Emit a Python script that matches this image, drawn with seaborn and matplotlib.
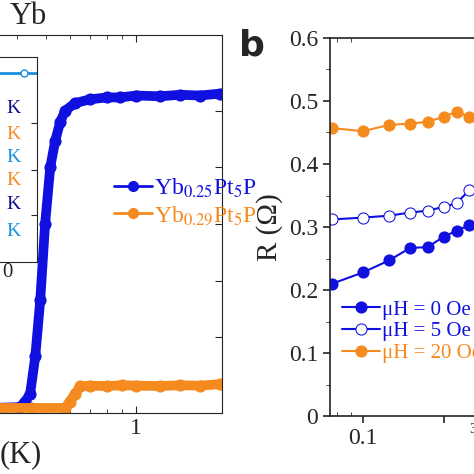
import matplotlib
matplotlib.use("Agg")
import matplotlib.pyplot as plt
from matplotlib.lines import Line2D
import seaborn as sns
import numpy as np

sns.set_style("ticks")
plt.rcParams['font.family'] = ['Liberation Serif', 'DejaVu Serif']
plt.rcParams['mathtext.fontset'] = 'stix'

BLUE = "#1010e0"
ORANGE = "#f58a1f"
LBLUE = "#1a8fe0"

# panel a data (T in K, normalized R)
t_a_blue = [0.326, 0.41, 0.426, 0.443, 0.461, 0.479, 0.497, 0.517, 0.537, 0.558, 0.58, 0.626, 0.703, 0.80, 0.884, 1.0, 1.2, 1.4, 1.63, 1.9]
r_a_blue = [0.013, 0.015, 0.03, 0.05, 0.15, 0.3, 0.5, 0.65, 0.72, 0.77, 0.8, 0.82, 0.83, 0.835, 0.835, 0.84, 0.838, 0.842, 0.84, 0.845]
t_a_or = [0.326, 0.45, 0.58, 0.60, 0.626, 0.65, 0.70, 0.8, 0.9, 1.0, 1.2, 1.4, 1.63, 1.9]
r_a_or = [0.013, 0.013, 0.013, 0.03, 0.05, 0.07, 0.072, 0.071, 0.073, 0.072, 0.071, 0.073, 0.072, 0.076]

# panel b data
t_b = [0.0767, 0.1, 0.125, 0.150, 0.174, 0.2, 0.223, 0.248, 0.275]
r_0 = [0.21, 0.228, 0.247, 0.267, 0.268, 0.285, 0.294, 0.303, 0.31]
r_5 = [0.312, 0.315, 0.318, 0.323, 0.326, 0.332, 0.338, 0.358, 0.362]
r_20 = [0.457, 0.452, 0.462, 0.464, 0.467, 0.475, 0.483, 0.475, 0.478]

fig = plt.figure(figsize=(4.74, 4.74), dpi=100)

# panel a
axa = fig.add_axes([-0.5, 0.129, 0.968, 0.797])
sns.lineplot(x=t_a_blue, y=r_a_blue, ax=axa, color=BLUE, lw=7, marker='o', ms=8, mec=BLUE, legend=False)
sns.lineplot(x=t_a_or, y=r_a_or, ax=axa, color=ORANGE, lw=7, marker='o', ms=8, mec=ORANGE, legend=False)
axa.set_xscale('log')
axa.set_xlim(0.057, 1.93)
axa.set_ylim(0, 1)
axa.set_xticks([1])
axa.set_xticklabels(["1"])
axa.tick_params(direction='in', top=True, right=True, labelsize=17, length=5)
axa.tick_params(which='minor', direction='in', top=True, length=3)
axa.set_yticks([0.2, 0.35, 0.5, 0.65, 0.8])
axa.set_yticklabels([])
for s in axa.spines.values():
    s.set_color('#222222')
handles = [Line2D([], [], color=BLUE, lw=2, marker='o', ms=7),
           Line2D([], [], color=ORANGE, lw=2, marker='o', ms=7)]
leg = axa.legend(handles, [r"Yb$_{0.25}$Pt$_5$P", r"Yb$_{0.29}$Pt$_5$P"], loc='upper left',
                 bbox_to_anchor=(0.745, 0.65), frameon=False, fontsize=17,
                 handlelength=1.6, handletextpad=0.1, labelspacing=0.2, borderaxespad=0)
for txt, c in zip(leg.get_texts(), [BLUE, ORANGE]):
    txt.set_color(c)

# inset
axi = fig.add_axes([-0.2, 0.447, 0.278, 0.433])
axi.plot([0.1, 0.6, 0.9, 1.1], [0.92, 0.92, 0.92, 0.92], color=LBLUE, lw=2, marker='o', ms=5, mfc='white', mec=LBLUE)
axi.set_xlim(0, 1)
axi.set_ylim(0, 1)
axi.set_xticks([])
axi.set_yticks([0.68, 0.45, 0.23])
axi.set_yticklabels([])
axi.tick_params(direction='in', right=True, length=4)
k_cols = ["#101090", ORANGE, LBLUE, ORANGE, "#101090", LBLUE]
k_y = [0.75, 0.62, 0.51, 0.40, 0.28, 0.15]
for yy, c in zip(k_y, k_cols):
    axi.text(0.82, yy, "K", color=c, fontsize=14, ha='center', va='center', transform=axi.transAxes)

fig.text(0.005, 0.425, "0", fontsize=15, va='center')
fig.text(0.02, 0.965, "Yb", fontsize=22, va='center')
fig.text(0.0, 0.04, "(K)", fontsize=22, va='center')

# panel b
axb = fig.add_axes([0.696, 0.122, 0.45, 0.798])
sns.lineplot(x=t_b, y=r_0, ax=axb, color=BLUE, marker='o', ms=8, mec=BLUE, lw=1.5, label="μH = 0 Oe")
sns.lineplot(x=t_b, y=r_5, ax=axb, color=BLUE, marker='o', ms=8, mfc='white', mec=BLUE, lw=1.5, label="μH = 5 Oe")
sns.lineplot(x=t_b, y=r_20, ax=axb, color=ORANGE, marker='o', ms=8, mec=ORANGE, lw=1.5, label="μH = 20 Oe")
axb.set_xscale('log')
axb.set_xlim(0.0754, 0.468)
axb.set_ylim(0, 0.6)
axb.set_yticks([0, 0.1, 0.2, 0.3, 0.4, 0.5, 0.6])
axb.set_yticklabels(["0", "0.1", "0.2", "0.3", "0.4", "0.5", "0.6"])
axb.set_yticks(np.arange(0.05, 0.6, 0.1), minor=True)
axb.set_xticks([0.1, 0.2])
axb.set_xticklabels(["0.1", " "])
axb.tick_params(direction='out', labelsize=17, length=5, width=1.2)
axb.tick_params(which='minor', direction='out', length=3)
axb.tick_params(axis='x', which='minor', direction='in', top=True)
axb.set_ylabel("R (Ω)", fontsize=21)
for s in axb.spines.values():
    s.set_color('#222222')
    s.set_linewidth(1.2)
legb = axb.legend(loc='upper left', bbox_to_anchor=(0.0, 0.34), frameon=False, fontsize=15,
                  handlelength=1.8, handletextpad=0.1, labelspacing=0.1, borderaxespad=0.2)
for txt, c in zip(legb.get_texts(), [BLUE, BLUE, ORANGE]):
    txt.set_color(c)
fig.text(0.505, 0.905, "b", fontsize=26, fontweight='bold', family='DejaVu Sans', va='center')

fig.savefig("out.png", dpi=100)
